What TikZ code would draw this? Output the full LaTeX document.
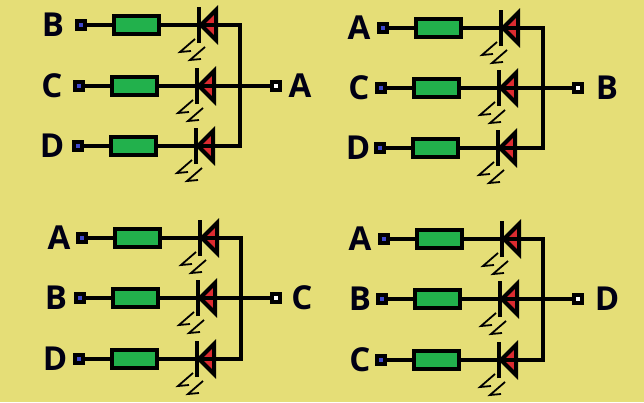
\documentclass[tikz,border=0pt]{standalone}
\usepackage{fontspec}
\setmainfont{Open Sans}
\usetikzlibrary{arrows.meta}

\definecolor{panelbg}{HTML}{E5DE77}
\definecolor{resgreen}{HTML}{22B14C}
\definecolor{ledred}{HTML}{DC2B30}
\definecolor{padblue}{HTML}{3F48CC}

\tikzset{
  wire/.style={line width=4pt,line cap=rect},
  resbox/.style={draw,line width=4.2pt,fill=resgreen,minimum width=44.8pt,minimum height=17.8pt,inner sep=0pt},
  inpad/.style={draw,line width=4pt,fill=padblue,minimum size=8pt,inner sep=0pt},
  outpad/.style={draw,line width=4pt,fill=white,minimum size=8pt,inner sep=0pt},
  ledtri/.style={draw,line width=4pt,fill=ledred,line join=miter},
  lightray/.style={line width=1.8pt},
  letter/.style={font=\fontsize{33}{33}\selectfont\bfseries,inner sep=0pt,text=black!92!blue}
}

% #1 name, #2 pad x, #3 y, #4 letter, #5 letter x, #6 bus x
\newcommand{\ledrow}[6]{
  \node[inpad] (#1pad) at (#2,#3) {};
  \node[resbox] (#1res) at (#2+55.5,#3) {};
  \coordinate (#1bar) at (#2+118,#3);
  \coordinate (#1end) at (#6,#3);
  \node[letter] (#1txt) at (#5,#3) {#4};
  \filldraw[ledtri] ([xshift=2pt]#1bar) -- ++(15,-15) -- ++(0,30) -- cycle;
  \draw[wire] (#1pad) -- (#1res);
  \draw[wire] (#1res) -- (#1bar) -- (#1end);
  \draw[line width=4pt] ([yshift=-18pt]#1bar) -- ([yshift=18pt]#1bar);
  \draw[lightray] ([shift={(-4,14)}]#1bar) -- ++(-15,13) -- ++(11,-1);
  \draw[lightray] ([shift={(6,22)}]#1bar) -- ++(-15,13) -- ++(11,-1);
}

% #1 group, #2 output letter, #3 letter x, #4 pad x
\newcommand{\outrow}[4]{
  \draw[wire] (#1aend) -- (#1cend);
  \node[outpad] (#1out) at (#4,0 |- #1bend) {};
  \draw[wire] (#1bend) -- (#1out);
  \node[letter] (#1txt) at (#3,0 |- #1bend) {#2};
}

\begin{document}
\begin{tikzpicture}[x=1pt,y=-1pt]
\useasboundingbox[fill=panelbg] (0,0) rectangle (644,402);

\ledrow{pa}{81}{25}{B}{53}{240}
\ledrow{pb}{79}{86}{C}{52}{240}
\ledrow{pc}{78}{146}{D}{52}{240}
\outrow{p}{A}{300}{275.5}

\ledrow{qa}{383}{28}{A}{359}{543}
\ledrow{qb}{381}{88}{C}{359}{543}
\ledrow{qc}{380}{148}{D}{358}{543}
\outrow{q}{B}{607}{577.5}

\ledrow{ra}{82}{238}{A}{59}{241}
\ledrow{rb}{80}{298}{B}{56}{241}
\ledrow{rc}{79}{359}{D}{55}{241}
\outrow{r}{C}{302}{276}

\ledrow{sa}{384}{239}{A}{360}{543}
\ledrow{sb}{382}{299}{B}{360}{543}
\ledrow{sc}{381}{360}{C}{360}{543}
\outrow{s}{D}{607}{578}
\end{tikzpicture}
\end{document}
